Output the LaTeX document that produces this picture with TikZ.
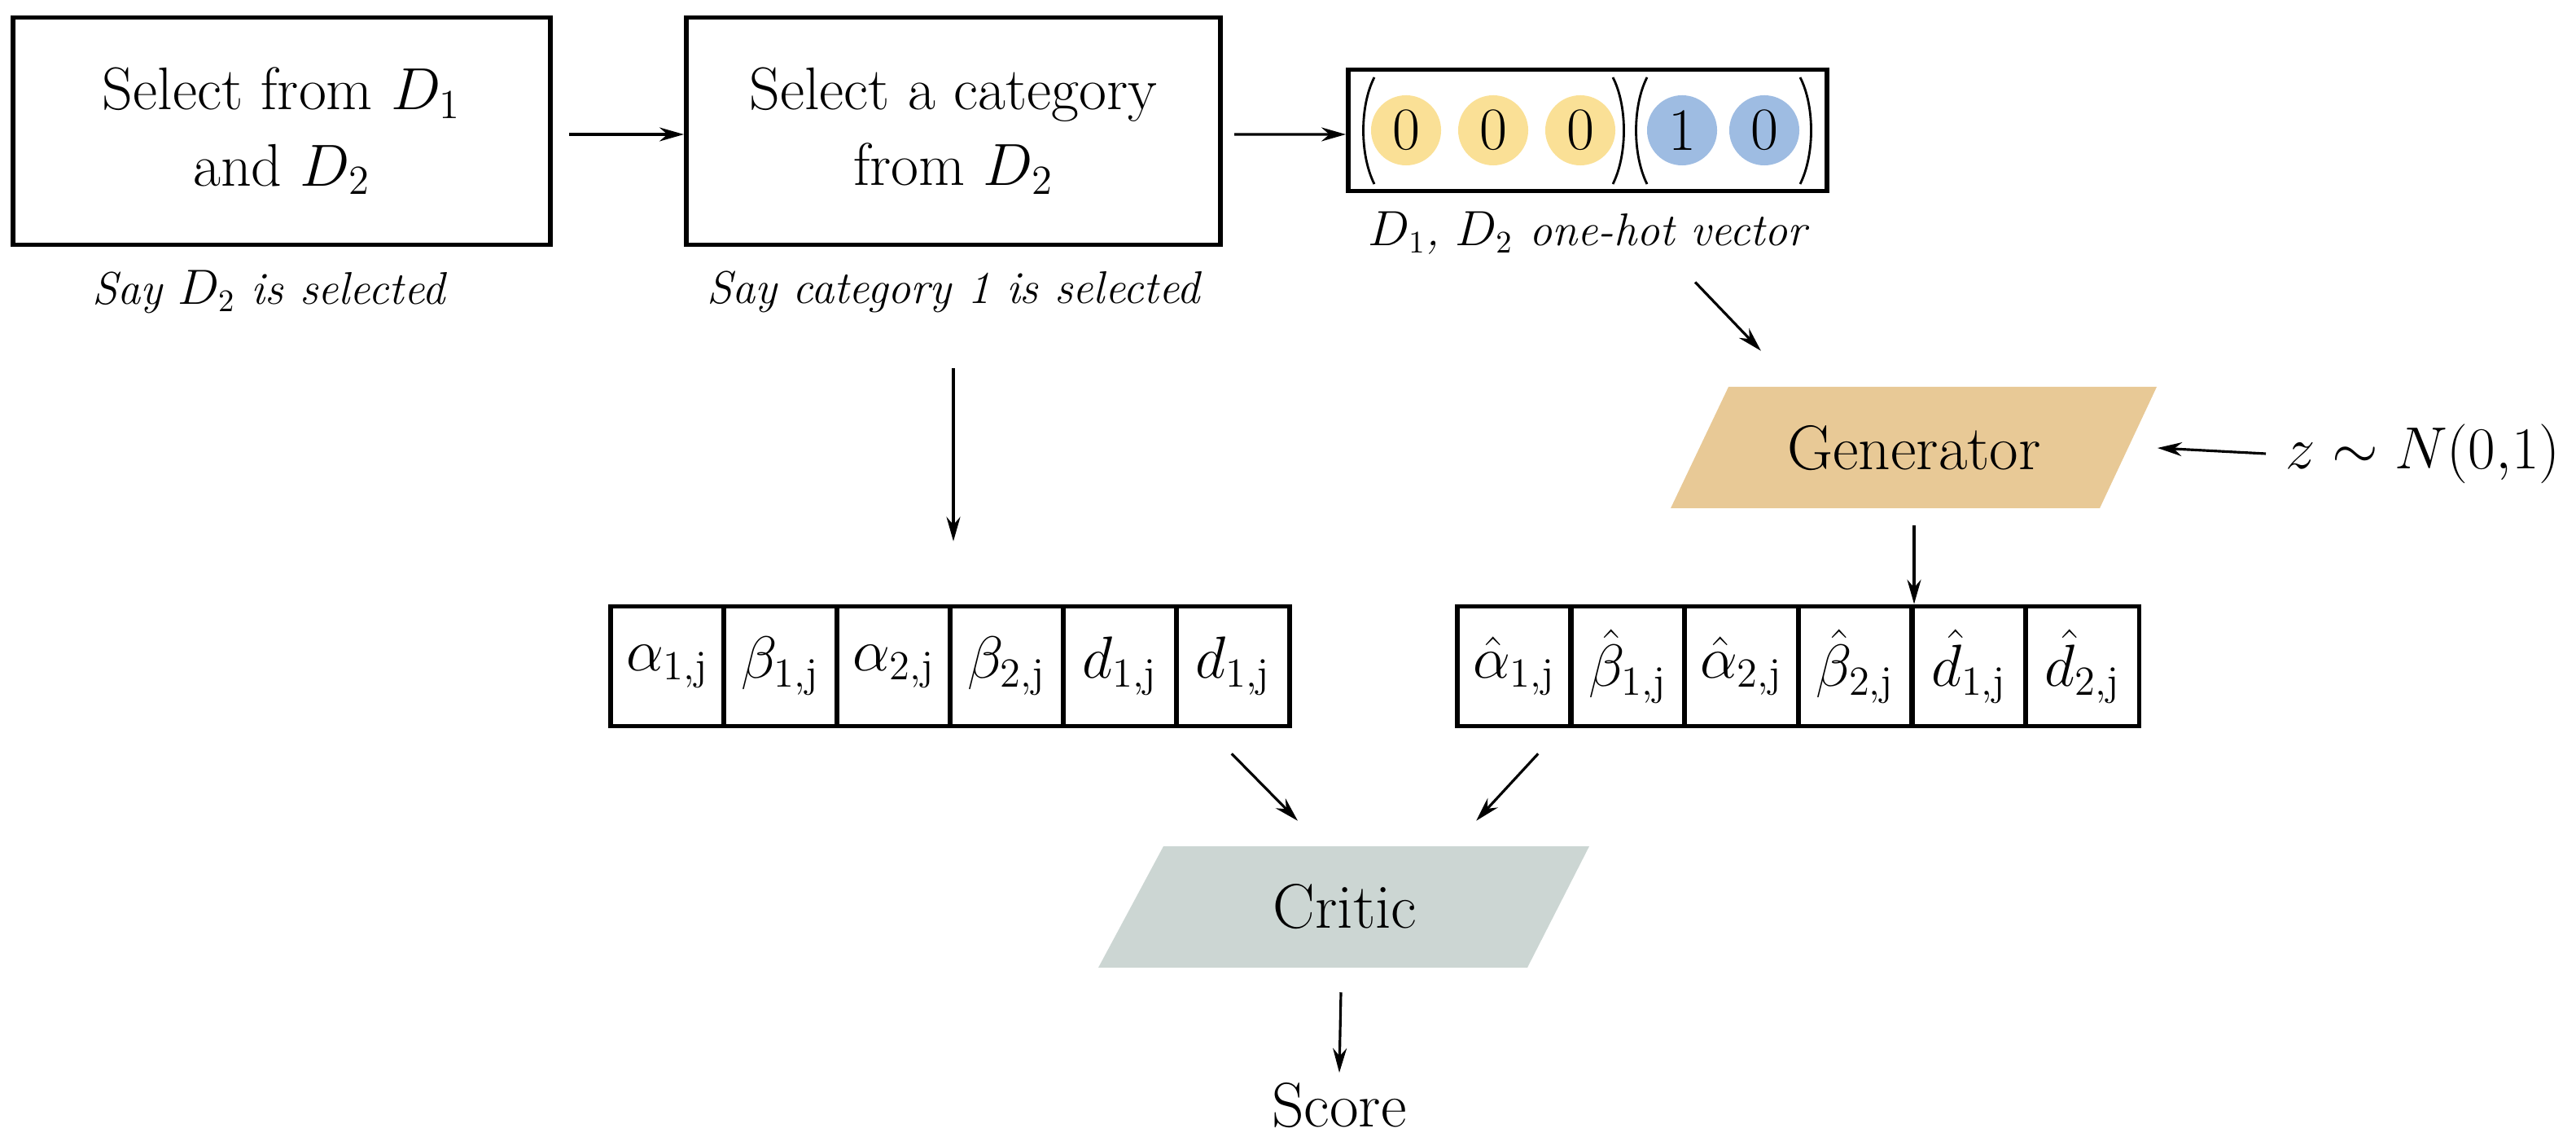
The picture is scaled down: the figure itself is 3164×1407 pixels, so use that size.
\documentclass[tikz,border=0pt]{standalone}
\usetikzlibrary{arrows.meta}
\definecolor{gencol}{RGB}{232,201,150}
\definecolor{critcol}{RGB}{204,214,211}
\definecolor{yel}{RGB}{250,224,150}
\definecolor{blu}{RGB}{158,188,226}
\begin{document}
\begin{tikzpicture}[x=0.01cm,y=-0.01cm,
    box/.style={draw, line width=1.6pt, minimum width=6.6cm, minimum height=2.79cm,
        align=center, font=\fontsize{21}{26.5}\selectfont},
    cell/.style={draw, line width=1.6pt, minimum width=1.39cm, minimum height=1.47cm,
        inner sep=0pt, font=\fontsize{20}{24}\selectfont},
    capt/.style={font=\fontsize{16}{19}\selectfont\itshape},
    dot/.style={circle, fill=#1, minimum size=0.86cm, inner sep=0pt,
        font=\fontsize{21}{25}\selectfont},
    lbl/.style={font=\fontsize{22}{26}\selectfont},
    arr/.style={-{Stealth[length=0.3cm,width=0.17cm]}, line width=0.9pt}
]
\useasboundingbox (0,0) rectangle (3164,1407);

% top row
\node[box, minimum width=6.6cm] (s1) at (346,161) {Select from $D_1$\\and $D_2$};
\node[box, minimum width=6.56cm] (s2) at (1171,161) {Select a category\\from $D_2$};
\node[capt] (c1) at (330,358) {Say $D_2$ is selected};
\node[capt] (c2) at (1171,358) {Say category 1 is selected};

% one-hot vector
\node[draw, line width=1.6pt, minimum width=5.88cm, minimum height=1.49cm] (oh) at (1950,160) {};
\foreach \x/\c/\v [count=\i] in {1727/yel/0,1834/yel/0,1941/yel/0,2066/blu/1,2167/blu/0}
  \node[dot=\c] (o\i) at (\x,160) {\v};
\foreach \a/\b in {1676/1993,2011/2223}{
  \draw[line width=0.8pt] (\a+12,95) .. controls (\a-6,130) and (\a-6,190) .. (\a+12,226);
  \draw[line width=0.8pt] (\b-12,95) .. controls (\b+6,130) and (\b+6,190) .. (\b-12,226);
}
\node[capt] (c3) at (1950,286) {$D_1$, $D_2$ one-hot vector};

% generator
\fill[gencol] (2123,475) -- (2649,475) -- (2579,624) -- (2052,624) -- cycle;
\node[lbl, minimum width=5cm, minimum height=1.49cm] (gen) at (2351,550) {Generator};
\node[lbl, anchor=west] (z) at (2795,557) {$z \sim N(0{,}1)$};

% vectors
\foreach \t [count=\i] in {{$\alpha_{1,\mathrm{j}}$},{$\beta_{1,\mathrm{j}}$},{$\alpha_{2,\mathrm{j}}$},{$\beta_{2,\mathrm{j}}$},{$d_{1,\mathrm{j}}$},{$d_{1,\mathrm{j}}$}}
  \node[cell] (r\i) at (750+69.5+139*\i-139,818) {\t};
\foreach \t [count=\i] in {{$\hat\alpha_{1,\mathrm{j}}$},{$\hat\beta_{1,\mathrm{j}}$},{$\hat\alpha_{2,\mathrm{j}}$},{$\hat\beta_{2,\mathrm{j}}$},{$\hat d_{1,\mathrm{j}}$},{$\hat d_{2,\mathrm{j}}$}}
  \node[cell] (f\i) at (1790+69.5+139.7*\i-139.7,818) {\t};

% critic
\fill[critcol] (1429,1039) -- (1952,1039) -- (1876,1188) -- (1349,1188) -- cycle;
\node[lbl, minimum width=4.8cm, minimum height=1.49cm] (crit) at (1652,1113) {Critic};
\node[lbl] (score) at (1645,1357) {Score};

% connectors
\draw[arr] ([xshift=0.2cm,yshift=-0.04cm]s1.east) -- ([yshift=-0.04cm]s2.west);
\draw[arr] ([xshift=0.14cm,yshift=-0.04cm]s2.east) -- ([yshift=-0.05cm]oh.west);
\draw[arr] ([xshift=1.32cm,yshift=-1.09cm]oh.south) -- ([xshift=-1.88cm,yshift=0.44cm]gen.north);
\draw[arr] ([xshift=-0.12cm]z.west) -- ([xshift=0.48cm]gen.east);
\draw[arr] ([yshift=-1.49cm]s2.south) -- ([yshift=0.77cm]s2.south |- r1.north);
\draw[arr] ([yshift=-0.2cm]gen.south) -- (gen.south |- f1.north);
\draw[arr] ([xshift=-0.74cm,yshift=-0.31cm]r6.south east) -- ([xshift=-0.58cm,yshift=0.3cm]crit.north);
\draw[arr] ([xshift=1.02cm,yshift=-0.31cm]f1.south west) -- ([xshift=1.61cm,yshift=0.3cm]crit.north);
\draw[arr] ([xshift=-0.05cm,yshift=-0.3cm]crit.south) -- (score.north);
\end{tikzpicture}
\end{document}
